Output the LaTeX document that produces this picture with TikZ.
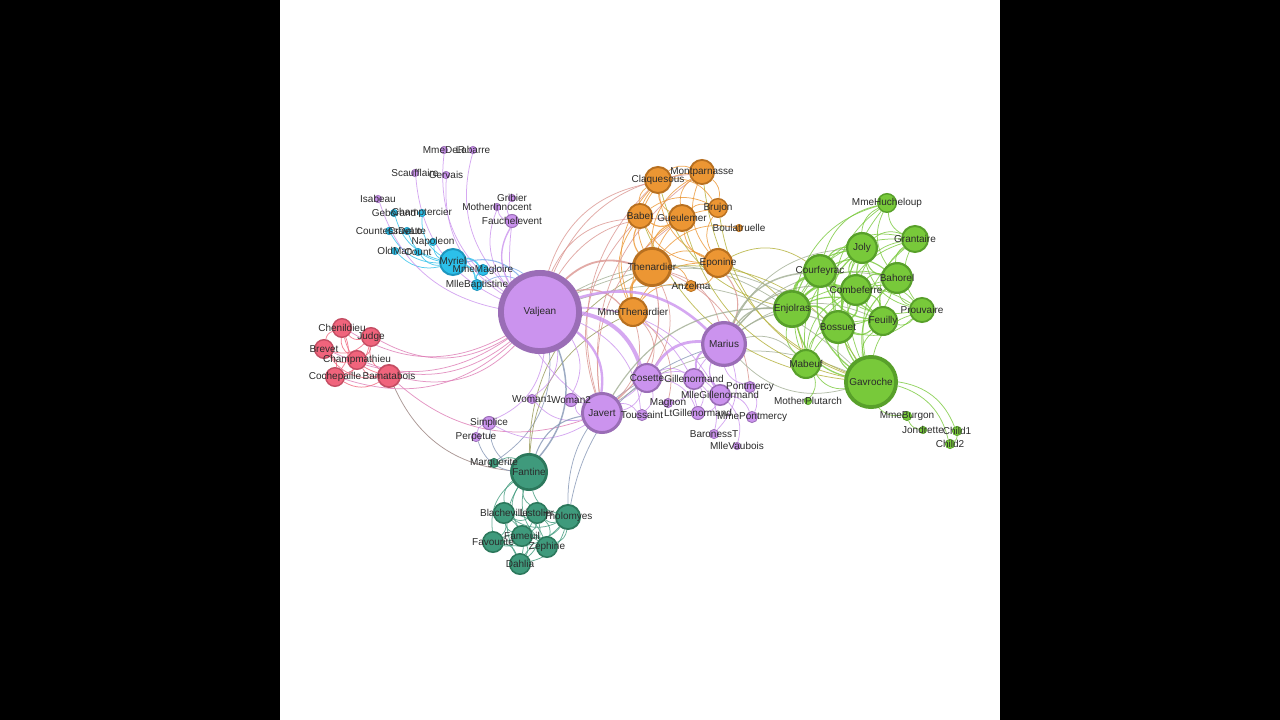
\documentclass[tikz,border=0pt]{standalone}
\usepackage{fontspec}
\setmainfont{Liberation Sans}
\usepackage{xcolor}
\definecolor{vio}{HTML}{CB93EE}
\definecolor{viodark}{HTML}{9A6DB6}
\definecolor{org}{HTML}{EC9633}
\definecolor{orgdark}{HTML}{B87020}
\definecolor{grn}{HTML}{78C93A}
\definecolor{grndark}{HTML}{58A02A}
\definecolor{cyn}{HTML}{2CC0EA}
\definecolor{cyndark}{HTML}{1E96BE}
\definecolor{pnk}{HTML}{F0647C}
\definecolor{pnkdark}{HTML}{C44D63}
\definecolor{tea}{HTML}{3F9A7C}
\definecolor{teadark}{HTML}{2C785C}
\definecolor{ink}{HTML}{2B2B2B}
\pgfdeclarelayer{paper}
\pgfdeclarelayer{links}
\pgfdeclarelayer{names}
\pgfsetlayers{paper,links,main,names}
\tikzset{
  person/.style={circle, draw=#1dark, fill=#1, inner sep=0pt},
  charname/.style={font=\fontsize{10}{12}\selectfont, text=ink, inner sep=0pt},
  link/.style={line width=0.75pt, draw opacity=0.8, bend right=30}
}
% name, x, y, radius, group
\newcommand{\who}[5]{%
  \node[person=#5, line width=#4*0.14pt, minimum size=#4*1.86pt] (#1) at (#2,#3) {};
  \begin{pgfonlayer}{names}\node[charname] at (#1) {#1};\end{pgfonlayer}
  \expandafter\gdef\csname grp@#1\endcsname{#5}}

\begin{document}
\begin{tikzpicture}[x=1pt, y=-1pt]
\begin{pgfonlayer}{paper}
\fill[black] (0,0) rectangle (1280,720);
\fill[white] (280,0) rectangle (1000,720);
\end{pgfonlayer}
\useasboundingbox (0,0) rectangle (1280,720);

% Myriel's household
\who{Myriel}{453}{262}{14}{cyn}
\who{Napoleon}{433}{242}{4}{cyn}
\who{MlleBaptistine}{477}{285}{6}{cyn}
\who{MmeMagloire}{483}{270}{6}{cyn}
\who{CountessDeLo}{389}{231}{4}{cyn}
\who{Geborand}{394}{213}{4}{cyn}
\who{Champtercier}{422}{213}{4}{cyn}
\who{Cravatte}{407}{231}{4}{cyn}
\who{Count}{418}{252}{4}{cyn}
\who{OldMan}{395}{251}{4}{cyn}
% Valjean and the purple group
\who{Valjean}{540}{312}{42}{vio}
\who{Labarre}{473}{150}{4}{vio}
\who{MmeDeR}{444}{150}{4}{vio}
\who{Isabeau}{378}{199}{4}{vio}
\who{Gervais}{446}{175}{4}{vio}
\who{Scaufflaire}{415}{173}{4}{vio}
\who{Fauchelevent}{512}{221}{7}{vio}
\who{MotherInnocent}{497}{207}{4}{vio}
\who{Gribier}{512}{198}{4}{vio}
\who{Cosette}{647}{378}{15}{vio}
\who{Javert}{602}{413}{21}{vio}
\who{Perpetue}{476}{437}{5}{vio}
\who{Simplice}{489}{423}{7}{vio}
\who{Woman1}{532}{399}{5}{vio}
\who{Woman2}{571}{400}{7}{vio}
\who{Toussaint}{642}{415}{6}{vio}
\who{Marius}{724}{344}{23}{vio}
\who{Gillenormand}{694}{379}{11}{vio}
\who{MlleGillenormand}{720}{395}{11}{vio}
\who{LtGillenormand}{698}{413}{7}{vio}
\who{Magnon}{668}{403}{5}{vio}
\who{Pontmercy}{750}{387}{6}{vio}
\who{MmePontmercy}{752}{417}{6}{vio}
\who{BaronessT}{714}{434}{5}{vio}
\who{MlleVaubois}{737}{446}{4}{vio}
% Fantine's friends
\who{Fantine}{529}{472}{19}{tea}
\who{Marguerite}{494}{463}{5}{tea}
\who{Tholomyes}{568}{517}{13}{tea}
\who{Listolier}{537}{513}{11}{tea}
\who{Fameuil}{522}{536}{11}{tea}
\who{Blacheville}{504}{513}{11}{tea}
\who{Favourite}{493}{542}{11}{tea}
\who{Dahlia}{520}{564}{11}{tea}
\who{Zephine}{547}{547}{11}{tea}
% the trial
\who{Bamatabois}{389}{376}{12}{pnk}
\who{Judge}{371}{337}{10}{pnk}
\who{Champmathieu}{357}{360}{10}{pnk}
\who{Brevet}{324}{349}{10}{pnk}
\who{Chenildieu}{342}{328}{10}{pnk}
\who{Cochepaille}{335}{377}{10}{pnk}
% Thenardiers and Patron-Minette
\who{Thenardier}{652}{267}{20}{org}
\who{MmeThenardier}{633}{312}{15}{org}
\who{Eponine}{718}{263}{15}{org}
\who{Anzelma}{691}{286}{6}{org}
\who{Boulatruelle}{739}{228}{4}{org}
\who{Gueulemer}{682}{218}{14}{org}
\who{Babet}{640}{216}{13}{org}
\who{Claquesous}{658}{180}{14}{org}
\who{Montparnasse}{702}{172}{13}{org}
\who{Brujon}{718}{208}{10}{org}
% barricade
\who{Gavroche}{871}{382}{27}{grn}
\who{Mabeuf}{806}{364}{15}{grn}
\who{Enjolras}{792}{309}{19}{grn}
\who{Combeferre}{856}{290}{16}{grn}
\who{Prouvaire}{922}{310}{13}{grn}
\who{Feuilly}{883}{321}{15}{grn}
\who{Courfeyrac}{820}{271}{17}{grn}
\who{Bahorel}{897}{278}{16}{grn}
\who{Bossuet}{838}{327}{17}{grn}
\who{Joly}{862}{248}{16}{grn}
\who{Grantaire}{915}{239}{14}{grn}
\who{MmeHucheloup}{887}{203}{10}{grn}
\who{MotherPlutarch}{808}{401}{4}{grn}
\who{MmeBurgon}{907}{416}{5}{grn}
\who{Jondrette}{923}{430}{4}{grn}
\who{Child1}{957}{431}{5}{grn}
\who{Child2}{950}{444}{5}{grn}

\begin{pgfonlayer}{links}
% light links
\foreach \a/\b in {Napoleon/Myriel, CountessDeLo/Myriel, Geborand/Myriel, Champtercier/Myriel, Cravatte/Myriel, Count/Myriel, OldMan/Myriel,
  Labarre/Valjean, Valjean/MmeMagloire, Valjean/MlleBaptistine, Marguerite/Valjean, MmeDeR/Valjean, Isabeau/Valjean, Gervais/Valjean,
  Listolier/Tholomyes, Fameuil/Tholomyes, Fameuil/Listolier, Blacheville/Tholomyes, Blacheville/Listolier, Blacheville/Fameuil,
  Favourite/Tholomyes, Favourite/Listolier, Favourite/Fameuil, Favourite/Blacheville, Dahlia/Tholomyes, Dahlia/Listolier, Dahlia/Fameuil,
  Dahlia/Blacheville, Dahlia/Favourite, Zephine/Tholomyes, Zephine/Listolier, Zephine/Fameuil, Zephine/Blacheville, Zephine/Favourite,
  Zephine/Dahlia, Fantine/Tholomyes, Fantine/Listolier, Fantine/Fameuil, Fantine/Blacheville, Fantine/Favourite, Fantine/Dahlia,
  Fantine/Zephine, Fantine/Marguerite, MmeThenardier/Fantine, Thenardier/Fantine, Cosette/MmeThenardier, Cosette/Tholomyes,
  Cosette/Thenardier, Javert/MmeThenardier, Javert/Cosette, Fauchelevent/Javert, Bamatabois/Fantine, Bamatabois/Javert,
  Bamatabois/Valjean, Perpetue/Fantine, Simplice/Perpetue, Simplice/Valjean, Simplice/Fantine, Simplice/Javert, Scaufflaire/Valjean,
  Woman1/Valjean, Woman1/Javert, Judge/Valjean, Judge/Bamatabois, Champmathieu/Valjean, Champmathieu/Judge, Champmathieu/Bamatabois,
  Brevet/Judge, Brevet/Champmathieu, Brevet/Valjean, Brevet/Bamatabois, Chenildieu/Judge, Chenildieu/Champmathieu, Chenildieu/Brevet,
  Chenildieu/Valjean, Chenildieu/Bamatabois, Cochepaille/Judge, Cochepaille/Champmathieu, Cochepaille/Brevet, Cochepaille/Chenildieu,
  Cochepaille/Valjean, Cochepaille/Bamatabois, Pontmercy/Thenardier, Boulatruelle/Thenardier, Eponine/MmeThenardier, Eponine/Thenardier,
  Anzelma/Eponine, Anzelma/Thenardier, Anzelma/MmeThenardier, Woman2/Valjean, Woman2/Cosette, Woman2/Javert,
  MotherInnocent/Fauchelevent, MotherInnocent/Valjean, Gribier/Fauchelevent, MmeBurgon/Jondrette, Gavroche/MmeBurgon,
  Gavroche/Thenardier, Gavroche/Javert, Gavroche/Valjean, Gillenormand/Cosette, Gillenormand/Valjean, Magnon/Gillenormand,
  Magnon/MmeThenardier, MlleGillenormand/Cosette, MlleGillenormand/Valjean, MmePontmercy/MlleGillenormand, MmePontmercy/Pontmercy,
  MlleVaubois/MlleGillenormand, LtGillenormand/MlleGillenormand, LtGillenormand/Gillenormand, LtGillenormand/Cosette,
  Marius/Pontmercy, Marius/LtGillenormand, Marius/Tholomyes, Marius/Thenardier, Marius/Gavroche, BaronessT/Gillenormand,
  BaronessT/Marius, Mabeuf/Marius, Mabeuf/Eponine, Mabeuf/Gavroche, Enjolras/Mabeuf, Enjolras/Valjean, Combeferre/Mabeuf,
  Prouvaire/Gavroche, Prouvaire/Enjolras, Prouvaire/Combeferre, Feuilly/Gavroche, Feuilly/Prouvaire, Feuilly/Mabeuf, Feuilly/Marius,
  Courfeyrac/Mabeuf, Courfeyrac/Eponine, Courfeyrac/Prouvaire, Bahorel/Mabeuf, Bahorel/Enjolras, Bahorel/Feuilly, Bahorel/Prouvaire,
  Bahorel/Marius, Bossuet/Bahorel, Bossuet/Prouvaire, Bossuet/Mabeuf, Bossuet/Valjean, Joly/Gavroche, Joly/Prouvaire, Joly/Mabeuf,
  Joly/Marius, Grantaire/Bossuet, Grantaire/Enjolras, Grantaire/Combeferre, Grantaire/Courfeyrac, Grantaire/Joly, Grantaire/Gavroche,
  Grantaire/Bahorel, Grantaire/Feuilly, Grantaire/Prouvaire, MotherPlutarch/Mabeuf, Gueulemer/Valjean, Gueulemer/MmeThenardier,
  Gueulemer/Javert, Gueulemer/Gavroche, Gueulemer/Eponine, Babet/Valjean, Babet/MmeThenardier, Babet/Javert, Babet/Gavroche,
  Babet/Eponine, Claquesous/Thenardier, Claquesous/Gueulemer, Claquesous/Valjean, Claquesous/MmeThenardier, Claquesous/Javert,
  Claquesous/Eponine, Claquesous/Enjolras, Claquesous/Babet, Montparnasse/Javert, Montparnasse/Babet, Montparnasse/Gueulemer,
  Montparnasse/Claquesous, Montparnasse/Valjean, Montparnasse/Gavroche, Montparnasse/Eponine, Montparnasse/Thenardier,
  Toussaint/Cosette, Toussaint/Javert, Toussaint/Valjean, Child1/Gavroche, Child2/Gavroche, Child2/Child1, Brujon/Babet,
  Brujon/Gueulemer, Brujon/Thenardier, Brujon/Gavroche, Brujon/Eponine, Brujon/Claquesous, Brujon/Montparnasse,
  MmeHucheloup/Bossuet, MmeHucheloup/Joly, MmeHucheloup/Grantaire, MmeHucheloup/Bahorel, MmeHucheloup/Courfeyrac,
  MmeHucheloup/Gavroche, MmeHucheloup/Enjolras}{
  \edef\ca{\csname grp@\a\endcsname}\edef\cb{\csname grp@\b\endcsname}
  \draw[link, draw=\ca!50!\cb] (\a) to (\b);
}
% heavy links
\foreach \a/\b/\w in {MlleBaptistine/Myriel/8, MmeMagloire/Myriel/10, MmeMagloire/MlleBaptistine/6, Valjean/Myriel/5,
  Fantine/Valjean/9, MmeThenardier/Valjean/7, Thenardier/MmeThenardier/13, Thenardier/Valjean/12, Cosette/Valjean/31,
  Javert/Valjean/17, Javert/Fantine/5, Javert/Thenardier/5, Fauchelevent/Valjean/8, MlleGillenormand/Gillenormand/9,
  Marius/MlleGillenormand/6, Marius/Gillenormand/12, Marius/Cosette/21, Marius/Valjean/19, Marius/Eponine/5,
  Enjolras/Marius/7, Enjolras/Gavroche/7, Enjolras/Javert/6, Combeferre/Enjolras/15, Combeferre/Marius/5,
  Combeferre/Gavroche/6, Feuilly/Enjolras/6, Feuilly/Combeferre/5, Courfeyrac/Marius/9, Courfeyrac/Enjolras/17,
  Courfeyrac/Combeferre/13, Courfeyrac/Gavroche/7, Courfeyrac/Feuilly/6, Bahorel/Combeferre/5, Bahorel/Gavroche/5,
  Bahorel/Courfeyrac/6, Bossuet/Marius/5, Bossuet/Courfeyrac/12, Bossuet/Gavroche/5, Bossuet/Enjolras/10, Bossuet/Feuilly/6,
  Bossuet/Combeferre/9, Joly/Bahorel/5, Joly/Bossuet/7, Joly/Courfeyrac/5, Joly/Enjolras/5, Joly/Feuilly/5, Joly/Combeferre/5,
  Gueulemer/Thenardier/5, Babet/Thenardier/6, Babet/Gueulemer/6}{
  \edef\ca{\csname grp@\a\endcsname}\edef\cb{\csname grp@\b\endcsname}
  \draw[link, draw=\ca!50!\cb, line width=0.5pt+0.11pt*\w] (\a) to (\b);
}
\end{pgfonlayer}
\end{tikzpicture}
\end{document}
